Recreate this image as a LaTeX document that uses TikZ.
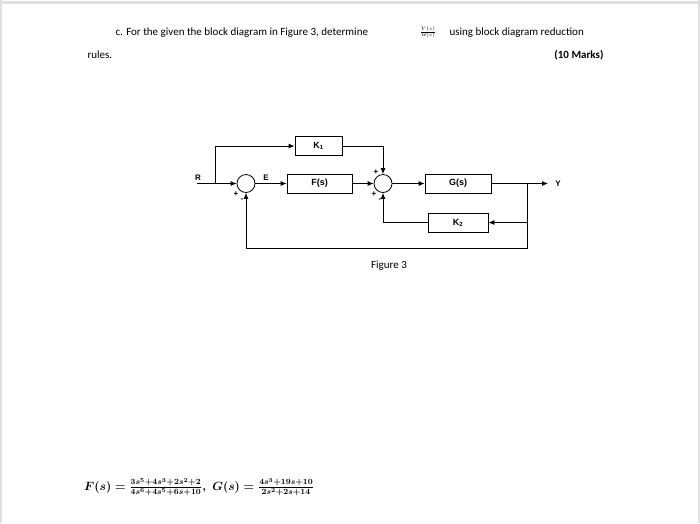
\documentclass[tikz,border=0pt]{standalone}
\usepackage{amsmath}
\usepackage{fontspec}
\setmainfont{Carlito}
\newfontfamily\arialf{Liberation Sans}
\usetikzlibrary{arrows.meta}
\tikzset{
  blk/.style = {draw, thick, minimum height=19pt, inner sep=0pt, font=\arialf\fontsize{9}{9}\selectfont\bfseries},
  sumj/.style = {draw, thick, circle, minimum size=18pt, inner sep=0pt},
  sig/.style = {font=\arialf\fontsize{8}{8}\selectfont\bfseries, inner sep=0pt},
  flow/.style = {thick, -{Latex[length=6pt,width=5pt]}},
  eqn/.style = {font=\fontsize{12}{12}\selectfont, inner sep=0pt}
}
\begin{document}
\begin{tikzpicture}[x=1pt,y=-1pt]
  \useasboundingbox[fill=white] (0,0) rectangle (700,523);
  \draw[black!12, line width=3pt] (0,2) -- (700,2);
  \draw[black!12, line width=2pt] (1,0) -- (1,523);
  \draw[black!12, line width=2pt] (699,0) -- (699,523);
  % question text
  \node[anchor=base west, font=\fontsize{11}{11}\selectfont] (q) at (112,35) {c. For the given the block diagram in Figure 3, determine};
  \node[font=\fontsize{7}{7}\selectfont, inner sep=0pt] (fr) at (428,32) {$\frac{Y(s)}{R(s)}$};
  \node[anchor=base west, font=\fontsize{11}{11}\selectfont] (q2) at (446,35) {using block diagram reduction};
  \node[anchor=base west, font=\fontsize{11}{11}\selectfont] (rl) at (84,58) {rules.};
  \node[anchor=base east, font=\fontsize{11}{11}\selectfont\bfseries] (mk) at (607,58) {(10 Marks)};
  % blocks
  \node[blk, minimum width=47pt] (k1) at (318.5,146) {K\textsubscript{1}};
  \node[blk, minimum width=65pt] (f) at (319.5,183.5) {F(s)};
  \node[blk, minimum width=66pt] (g) at (458,183.5) {G(s)};
  \node[blk, minimum width=60pt] (k2) at (458,222.5) {K\textsubscript{2}};
  \node[sumj] (s1) at (246,183.5) {};
  \node[sumj] (s2) at (383,183.5) {};
  \coordinate (in) at (197,183.5);
  \coordinate (br) at (215,183.5);
  \coordinate (out) at (548,183.5);
  \coordinate (tap) at (527,183.5);
  \coordinate (bot) at (246,248);
  % connectors
  \draw[flow] (in) -- (s1);
  \draw[flow] (br) |- (k1);
  \draw[flow] (s1) -- (f);
  \draw[flow] (f) -- (s2);
  \draw[flow] (k1) -| (s2);
  \draw[flow] (s2) -- (g);
  \draw[flow] (g) -- (out);
  \draw[flow] (tap) |- (k2);
  \draw[flow] (k2) -| (s2);
  \draw[flow] (tap) |- (bot) -- (s1);
  % labels
  \node[sig] (lr) at (198,178) {R};
  \node[sig] (le) at (266,178) {E};
  \node[sig] (ly) at (558,183.5) {Y};
  \node[sig] (p1) at (236,194) {+};
  \node[sig] (m1) at (242,200) {-};
  \node[sig] (p2) at (376,172) {+};
  \node[sig] (p3) at (374,194) {+};
  \node[sig] (m2) at (380,200) {-};
  \node[font=\fontsize{11}{11}\selectfont] (fig) at (389,266) {Figure 3};
  % transfer functions
  \node[eqn, anchor=west] (ftf) at (84,487) {$\boldsymbol{F(s)=\frac{3s^5+4s^3+2s^2+2}{4s^6+4s^5+6s+10}}$};
  \node[eqn, anchor=west] (gtf) at (ftf.east) {$\boldsymbol{,\;G(s)=\frac{4s^3+19s+10}{2s^2+2s+14}}$};
\end{tikzpicture}
\end{document}
